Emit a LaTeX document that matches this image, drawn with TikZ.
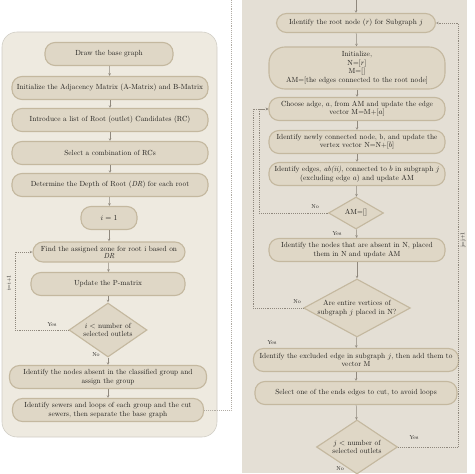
\documentclass[tikz,border=0pt]{standalone}
\usepackage{xcolor}
\usepackage{tikz}
\usetikzlibrary{shapes,arrows,positioning,calc}
\definecolor{panelA}{HTML}{EEEAE0}
\definecolor{panelB}{HTML}{E4DFD5}
\definecolor{boxfill}{HTML}{DFD7C6}
\definecolor{boxline}{HTML}{C4B89F}
\definecolor{linkgray}{HTML}{8F887D}
\definecolor{inkgray}{HTML}{1E1D1B}
\begin{document}
\begin{tikzpicture}[x=0.5mm, y=-0.5mm, text=inkgray,
  font=\fontsize{10.5}{12}\selectfont,
  box/.style={draw=boxline, fill=boxfill, line width=1.6pt, rounded corners=5mm, align=center, inner sep=1pt, minimum height=11.5mm},
  dec/.style={diamond, draw=boxline, fill=boxfill, line width=1.6pt, align=center, inner sep=0pt},
  link/.style={->, >=stealth, draw=linkgray, line width=0.7pt},
  back/.style={->, >=stealth, draw=linkgray, line width=0.7pt, dotted},
  lbl/.style={font=\fontsize{8}{9}\selectfont}]
\useasboundingbox (0,0) rectangle (474,474);
\clip (0,0) rectangle (474,474);

% Panels
\draw[fill=panelA, draw=panelA!85!black!90, line width=0.8pt, rounded corners=7.5mm] (2,32) rectangle (217,437);
\fill[panelB] (242,-2) rectangle (467,473);

% Left flow
\node[box, minimum width=64mm] (draw) at (109,54) {Draw the base graph};
\node[box, minimum width=98mm] (init) at (110,88) {Initialize the Adjacency Matrix (A-Matrix) and B-Matrix};
\node[box, minimum width=98mm] (rc) at (110,120) {Introduce a list of Root (outlet) Candidates (RC)};
\node[box, minimum width=98mm] (comb) at (110,153) {Select a combination of RCs};
\node[box, minimum width=98mm] (depth) at (110,185) {Determine the Depth of Root (\textit{DR}) for each root};
\node[box, minimum width=28mm] (ione) at (109,218) {$i=1$};
\node[box, minimum width=76mm, minimum height=10mm] (zone) at (109,252) {Find the assigned zone for root i based on\\[-2pt] \textit{DR}};
\node[box, minimum width=77mm] (pmat) at (108,284) {Update the P-matrix};
\node[dec, aspect=1.44, minimum width=39mm, minimum height=27mm] (itest) at (108,330) {$i<$ number of\\ selected outlets};
\node[box, minimum width=98.5mm] (absent) at (108,377) {Identify the nodes absent in the classified group and\\ assign the group};
\node[box, minimum width=95.5mm] (sewers) at (108,410) {Identify sewers and loops of each group and the cut\\ sewers, then separate the base graph};

\draw[link] (draw) -- (init);
\draw[link] (init) -- (rc);
\draw[link] (rc) -- (comb);
\draw[link] (comb) -- (depth);
\draw[link] (depth) -- (ione);
\draw[link] (ione) -- (zone);
\draw[link] (zone) -- (pmat);
\draw[link] (pmat) -- (itest);
\draw[link] (itest) -- (absent);
\draw[link] (absent) -- (sewers);
\node[lbl] at (96,355) {No};

% i loop
\coordinate (iback) at (15,252);
\draw[back] (itest.west) -| (iback) -- (zone.west);
\node[lbl] at (52,325) {Yes};
\node[lbl, rotate=90] at (9,283) {i=i+1};

% Link to right panel
\coordinate (ltop) at (231,0);
\draw[dotted, draw=linkgray!70, line width=0.7pt] (sewers.east) -| (ltop);

% Right flow
\coordinate (rtop) at (356,0);
\node[box, minimum width=79.5mm, minimum height=9.5mm] (root) at (356,23) {Identify the root node ($r$) for Subgraph $j$};
\node[box, minimum width=88mm, minimum height=21mm, rounded corners=8mm] (rinit) at (357,68) {Initialize,\\ N=[$r$]\\ M=[]\\ AM=[the edges connected to the root node]};
\node[box, minimum width=88mm] (edge) at (357,109) {Choose adge, $a$, from AM and update the edge\\ vector M=M+[$a$]};
\node[box, minimum width=88mm] (vert) at (357,142) {Identify newly connected node, b, and update the\\ vertex vector N=N+[$b$]};
\node[box, minimum width=88mm] (adj) at (357,174) {Identify edges, \textit{ab(ii)}, connected to $b$ in subgraph $j$\\ (excluding edge $a$) and update AM};
\node[dec, aspect=1.7, minimum width=27.5mm, minimum height=16mm] (amtest) at (356,213) {AM=[]};
\node[box, minimum width=88mm] (place) at (357,250) {Identify the nodes that are absent in N, placed\\ them in N and update AM};
\node[dec, aspect=1.84, minimum width=52.5mm, minimum height=28.5mm] (ntest) at (357,308) {Are entire vertices of\\ subgraph $j$ placed in N?};
\node[box, minimum width=102.5mm] (excl) at (356,360) {Identify the excluded edge in subgraph $j$, then add them to\\ vector M};
\node[box, minimum width=101mm] (cut) at (356,393) {Select one of the ends edges to cut, to avoid loops};
\node[dec, aspect=1.5, minimum width=40.5mm, minimum height=27mm] (jtest) at (357,447) {$j<$ number of\\ selected outlets};
\coordinate (rbot) at (357,478);

\draw[link] (rtop) -- (root);
\draw[link] (root) -- (rinit);
\draw[link] (rinit) -- (edge);
\draw[link] (edge) -- (vert);
\draw[link] (vert) -- (adj);
\draw[link] (adj) -- (amtest);
\draw[link] (amtest) -- (place);
\draw[link] (place) -- (ntest);
\draw[link] (ntest) -- (excl);
\draw[link] (excl) -- (cut);
\draw[link] (cut) -- (jtest);
\draw[draw=linkgray, line width=0.7pt] (jtest) -- (rbot);
\node[lbl] at (337,234) {Yes};
\node[lbl] at (272,343) {Yes};
\node[lbl] at (340,469) {No};

% Back loops
\coordinate (aback) at (259,109);
\coordinate (nback) at (253,109);
\coordinate (jback) at (458,23);
\draw[back] (amtest.west) -| (aback) -- (edge.west);
\draw[back] (ntest.west) -| (nback) -- (edge.west);
\draw[back] (jtest.east) -| (jback) -- (root.east);
\node[lbl] at (315,207) {No};
\node[lbl] at (297,302) {No};
\node[lbl] at (414,438) {Yes};
\node[lbl, rotate=90] at (463,240) {j=j+1};
\end{tikzpicture}
\end{document}
